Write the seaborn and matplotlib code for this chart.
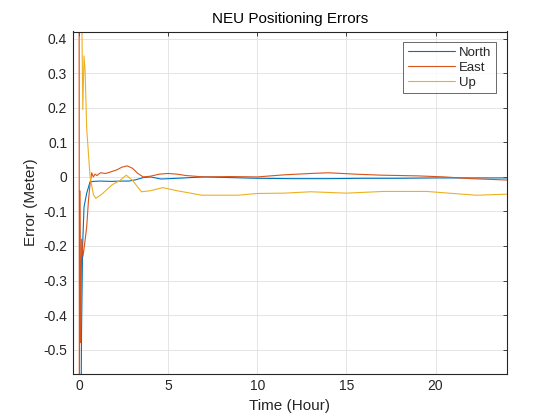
import numpy as np
import pandas as pd
import matplotlib
matplotlib.use("Agg")
import matplotlib.pyplot as plt
import seaborn as sns

# ---------------------------------------------------------------------------
# Data (time in hours, error in metres)
# ---------------------------------------------------------------------------
t_north = [0.10, 0.14, 0.20, 0.28, 0.43, 0.62, 0.8, 1.2, 1.8, 2.4, 2.8, 3.2,
           3.6, 4.0, 4.6, 5.5, 7.0, 8.5, 10.0, 12.0, 14.0, 16.0, 18.0, 20.0,
           22.0, 24.0]
north = [-0.80, -0.45, -0.20, -0.087, -0.047, -0.014, -0.013, -0.012, -0.013,
         -0.012, -0.012, -0.008, -0.002, 0.0, -0.006, -0.004, 0.0, -0.002,
         -0.004, -0.005, -0.005, -0.004, -0.004, -0.003, -0.003, -0.003]

t_east = [0.0, 0.02, 0.04, 0.09, 0.15, 0.22, 0.30, 0.43, 0.53, 0.62, 0.71,
          0.8, 0.9, 1.0, 1.2, 1.5, 1.8, 2.1, 2.4, 2.7, 3.0, 3.3, 3.6, 4.0,
          4.5, 5.0, 5.5, 6.0, 7.0, 8.5, 10.0, 11.5, 13.0, 14.0, 15.5, 17.0,
          19.0, 20.5, 22.0, 24.0]
east = [0.80, -0.80, -0.04, -0.48, -0.18, -0.23, -0.20, -0.145, -0.067,
        -0.02, 0.012, 0.0, 0.008, 0.004, 0.012, 0.010, 0.015, 0.020, 0.028,
        0.032, 0.025, 0.010, 0.0, 0.002, 0.008, 0.010, 0.008, 0.004, 0.0,
        0.001, 0.0, 0.006, 0.010, 0.012, 0.008, 0.005, 0.003, 0.0, -0.005,
        -0.009]

t_up = [0.12, 0.15, 0.21, 0.28, 0.34, 0.43, 0.62, 0.81, 0.94, 1.28,
        1.85, 2.3, 2.65, 3.0, 3.5, 4.0, 4.7, 5.5, 6.9, 8.9, 10.0, 11.5, 13.0,
        15.0, 17.1, 19.5, 21.0, 22.3, 24.0]
up = [0.80, 0.50, 0.195, 0.35, 0.307, 0.14, 0.0, -0.052, -0.062,
      -0.050, -0.023, -0.010, 0.005, -0.010, -0.043, -0.040, -0.031, -0.040,
      -0.053, -0.053, -0.048, -0.047, -0.043, -0.047, -0.042, -0.042, -0.048,
      -0.053, -0.050]

series_names = ["North", "East", "Up"]
series_colors = ["#0072BD", "#D95319", "#EDB120"]

df = pd.concat([
    pd.DataFrame({"Time": t_north, "Error": north, "Series": "North"}),
    pd.DataFrame({"Time": t_east, "Error": east, "Series": "East"}),
    pd.DataFrame({"Time": t_up, "Error": up, "Series": "Up"}),
], ignore_index=True)

# ---------------------------------------------------------------------------
# Plot (MATLAB-like look)
# ---------------------------------------------------------------------------
sns.set_style("white")
plt.rcParams["font.family"] = ["Liberation Sans", "DejaVu Sans"]
plt.rcParams["axes.unicode_minus"] = False

fig = plt.figure(figsize=(5.6, 4.2), dpi=100)
ax = fig.add_axes([0.13, 0.11, 0.775, 0.815])

sns.lineplot(data=df, x="Time", y="Error", hue="Series",
             hue_order=series_names, palette=series_colors,
             estimator=None, sort=False, linewidth=0.8, ax=ax)

ax.set_xlim(-0.35, 24)
ax.set_ylim(-0.57, 0.421)
ax.set_xticks([0, 5, 10, 15, 20])
yt = np.round(np.arange(-0.5, 0.41, 0.1), 1) + 0.0
ax.set_yticks(yt)
ax.set_yticklabels(["0" if abs(v) < 1e-9 else f"{v:g}" for v in yt])

ax.grid(True, color="#e0e0e0", linewidth=0.6)
ax.tick_params(direction="in", length=3, width=0.6, top=True, right=True,
               labelsize=10, colors="#262626", pad=4)
for side in ax.spines.values():
    side.set_linewidth(0.8)
    side.set_color("#262626")

ax.set_title("NEU Positioning Errors", fontsize=11, color="black")
ax.set_xlabel("Time (Hour)", fontsize=11, color="#262626")
ax.set_ylabel("Error (Meter)", fontsize=11, color="#262626")

leg = ax.legend(loc="upper right", fontsize=9.5, handlelength=3.6,
                frameon=True, fancybox=False, borderaxespad=0.8,
                borderpad=0.35, labelspacing=0.2, handletextpad=0.3)
leg.get_frame().set_edgecolor("#262626")
leg.get_frame().set_linewidth(0.6)
leg.set_title(None)

fig.savefig("out.png", dpi=100)
